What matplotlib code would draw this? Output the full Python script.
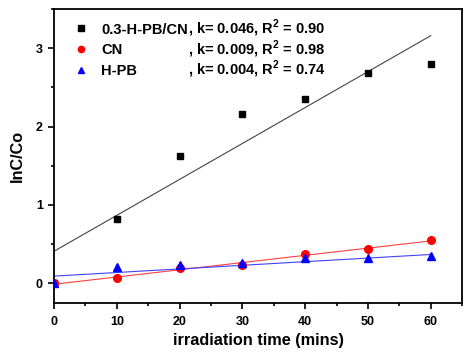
import matplotlib
matplotlib.use("Agg")
import matplotlib.pyplot as plt
import numpy as np
from matplotlib.lines import Line2D
from matplotlib.ticker import MultipleLocator

plt.rcParams['font.family'] = 'Liberation Sans'
plt.rcParams['font.weight'] = 'bold'
plt.rcParams['mathtext.fontset'] = 'custom'
plt.rcParams['mathtext.rm'] = 'Liberation Sans:bold'
plt.rcParams['mathtext.bf'] = 'Liberation Sans:bold'

# irradiation time (mins)
time = [0, 10, 20, 30, 40, 50, 60]

# lnC/Co values
hpb_cn = [0.0, 0.82, 1.63, 2.16, 2.35, 2.68, 2.80]
cn = [0.0, 0.07, 0.20, 0.24, 0.38, 0.44, 0.55]
hpb = [0.0, 0.21, 0.23, 0.26, 0.32, 0.33, 0.35]

# fitted lines (slope, intercept) as drawn
fit_hpb_cn = (0.0458, 0.41)
fit_cn = (0.0092, -0.01)
fit_hpb = (0.0046, 0.093)

names = ['0.3-H-PB/CN', 'CN', 'H-PB']
stats = [', k= 0.046, R$^2$ = 0.90',
         ', k= 0.009, R$^2$ = 0.98',
         ', k= 0.004, R$^2$ = 0.74']

fig = plt.figure(figsize=(4.74, 3.54), dpi=100)
ax = fig.add_axes([0.114, 0.144, 0.861, 0.831])

xfit = np.array([0, 60])
ax.plot(xfit, fit_hpb_cn[0] * xfit + fit_hpb_cn[1], color='#444444', lw=0.8)
ax.plot(xfit, fit_cn[0] * xfit + fit_cn[1], color='#ff4040', lw=0.8)
ax.plot(xfit, fit_hpb[0] * xfit + fit_hpb[1], color='#4040ff', lw=0.8)

ax.plot(time, hpb_cn, 's', color='black', ms=5, zorder=3)
ax.plot(time, cn, 'o', color='red', ms=5.5, zorder=3)
ax.plot(time, hpb, '^', color='blue', ms=6, zorder=3)

handles = [Line2D([], [], ls='none', marker='s', color='black', ms=4),
           Line2D([], [], ls='none', marker='o', color='red', ms=4.5),
           Line2D([], [], ls='none', marker='^', color='blue', ms=5)]
leg = ax.legend(handles, names, loc='upper left', frameon=False,
                fontsize=10.5, handlelength=1.0, handletextpad=0.9,
                labelspacing=0.45, bbox_to_anchor=(0.015, 0.998))

ax.set_xlim(0, 65)
ax.set_ylim(-0.25, 3.5)
ax.xaxis.set_major_locator(MultipleLocator(10))
ax.xaxis.set_minor_locator(MultipleLocator(5))
ax.yaxis.set_major_locator(MultipleLocator(1))
ax.yaxis.set_minor_locator(MultipleLocator(0.5))
ax.tick_params(which='both', direction='out', labelsize=9, width=1.2)
ax.tick_params(which='major', length=4)
ax.tick_params(which='minor', length=2.5)
ax.tick_params(axis='x', pad=5)
ax.tick_params(axis='y', pad=4)
for s in ax.spines.values():
    s.set_linewidth(1.3)

ax.set_xlabel('irradiation time (mins)', fontsize=11.7, fontweight='bold')
ax.set_ylabel('lnC/Co', fontsize=11.7, fontweight='bold', labelpad=8)

# stats column, commas aligned just after the longest name
fig.canvas.draw()
texts = leg.get_texts()
x_comma = texts[0].get_window_extent().x1
for t, s in zip(texts, stats):
    base = t.get_transform().transform(t.get_position())
    fig.text(x_comma / fig.bbox.width, base[1] / fig.bbox.height, s,
             fontsize=10.5, fontweight='bold', va='baseline', ha='left')

fig.savefig('out.png', dpi=100)
